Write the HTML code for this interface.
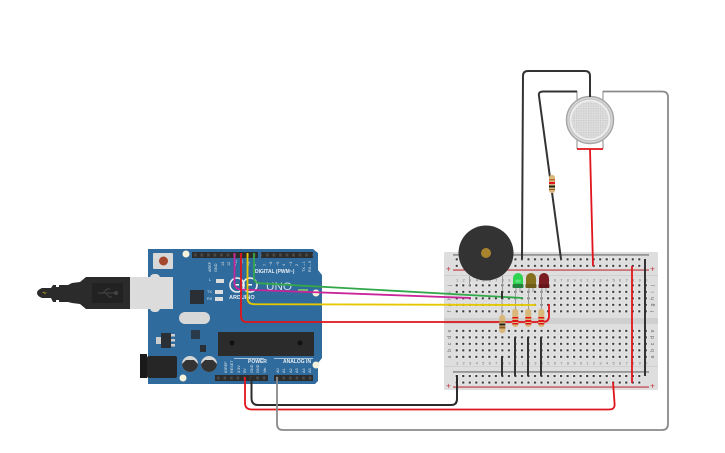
<!DOCTYPE html>
<html><head><meta charset="utf-8"><style>
html,body{margin:0;padding:0;background:#fff}
svg{display:block}
text{font-family:"Liberation Sans",sans-serif}
</style></head><body>
<svg width="725" height="453" viewBox="0 0 725 453" xmlns="http://www.w3.org/2000/svg">
<defs>
<pattern id="h" x="454.7" y="283.3" width="6.52" height="6.5" patternUnits="userSpaceOnUse"><rect width="4" height="4" rx="1" fill="#ededed"/><rect x="1" y="1" width="2.100" height="2.100" fill="#3a3a3a"/></pattern>
<pattern id="h2" x="454.7" y="374" width="6.52" height="6.5" patternUnits="userSpaceOnUse"><rect width="4" height="4" rx="1" fill="#ededed"/><rect x="1" y="1" width="2.100" height="2.100" fill="#3a3a3a"/></pattern>
<pattern id="dots" width="2.4" height="2.4" patternUnits="userSpaceOnUse"><rect width="2.4" height="2.4" fill="#dedede"/><rect width="1.2" height="1.2" fill="#c6c6c6"/></pattern>
<pattern id="hdr1" x="192" y="252" width="6.55" height="6" patternUnits="userSpaceOnUse"><rect width="6.55" height="6" fill="#2c2c2c"/><rect x="2" y="1.500" width="2.600" height="3" fill="#4a4a4a"/></pattern>
<pattern id="hdr2" x="215" y="375" width="6.55" height="6" patternUnits="userSpaceOnUse"><rect width="6.55" height="6" fill="#2c2c2c"/><rect x="2" y="1.500" width="2.600" height="3" fill="#4a4a4a"/></pattern>
</defs>

<!-- Breadboard -->
<rect x="444" y="252" width="214" height="138" rx="1.5" fill="#dedede"/>
<rect x="444" y="275" width="214" height="1" fill="#d0d0d0"/>
<rect x="444" y="366" width="214" height="1" fill="#d0d0d0"/>
<rect x="444" y="318" width="214" height="6" fill="#cfcfcf"/>
<rect x="453" y="254" width="196" height="1.800" fill="#959595"/>
<rect x="453" y="269.500" width="196" height="1.100" fill="#bf3038"/>
<rect x="453" y="371" width="196" height="1.800" fill="#959595"/>
<rect x="453" y="386.500" width="196" height="1.100" fill="#bf3038"/>
<g fill="url(#h)">
<rect x="454.7" y="257.3" width="189" height="4"/>
<rect x="454.7" y="263.8" width="189" height="4"/>
<rect x="454.7" y="283.3" width="195.6" height="4"/>
<rect x="454.7" y="289.8" width="195.6" height="4"/>
<rect x="454.7" y="296.3" width="195.6" height="4"/>
<rect x="454.7" y="302.8" width="195.6" height="4"/>
<rect x="454.7" y="309.3" width="195.6" height="4"/>
<rect x="454.7" y="328.8" width="195.6" height="4"/>
<rect x="454.7" y="335.3" width="195.6" height="4"/>
<rect x="454.7" y="341.8" width="195.6" height="4"/>
<rect x="454.7" y="348.3" width="195.6" height="4"/>
<rect x="454.7" y="354.8" width="195.6" height="4"/>
</g>
<g fill="url(#h2)">
<rect x="454.7" y="374" width="189" height="4"/>
<rect x="454.7" y="380.5" width="189" height="4"/>
</g>
<g font-size="8" fill="#c0303a" text-anchor="middle">
<text x="448.500" y="271.500">+</text><text x="652.500" y="271.500">+</text>
<text x="448.500" y="388.500">+</text><text x="652.500" y="388.500">+</text>
</g>
<g font-size="4" fill="#777">
<text x="456 462.500 469 475.600 482.100 488.600 495.100 501.600 508.200 514.700 521.200 527.700 534.200 540.800 547.300 553.800 560.300 566.800 573.400 579.900 586.400 592.900 599.400 606 612.500 619 625.500 632 638.600 645.100" y="281.500">123456789012345678901234567890</text>
<text x="456 462.500 469 475.600 482.100 488.600 495.100 501.600 508.200 514.700 521.200 527.700 534.200 540.800 547.300 553.800 560.300 566.800 573.400 579.900 586.400 592.900 599.400 606 612.500 619 625.500 632 638.600 645.100" y="364.500">123456789012345678901234567890</text>
</g>
<g font-size="5" fill="#666" text-anchor="middle">
<text transform="translate(451,285.500) rotate(-90)">j</text><text transform="translate(451,292) rotate(-90)">i</text><text transform="translate(451,298.500) rotate(-90)">h</text><text transform="translate(451,305) rotate(-90)">g</text><text transform="translate(451,311.500) rotate(-90)">f</text>
<text transform="translate(451,331) rotate(-90)">e</text><text transform="translate(451,337.500) rotate(-90)">d</text><text transform="translate(451,344) rotate(-90)">c</text><text transform="translate(451,350.500) rotate(-90)">b</text><text transform="translate(451,357) rotate(-90)">a</text>
<text transform="translate(654,285.500) rotate(-90)">j</text><text transform="translate(654,292) rotate(-90)">i</text><text transform="translate(654,298.500) rotate(-90)">h</text><text transform="translate(654,305) rotate(-90)">g</text><text transform="translate(654,311.500) rotate(-90)">f</text>
<text transform="translate(654,331) rotate(-90)">e</text><text transform="translate(654,337.500) rotate(-90)">d</text><text transform="translate(654,344) rotate(-90)">c</text><text transform="translate(654,350.500) rotate(-90)">b</text><text transform="translate(654,357) rotate(-90)">a</text>
</g>

<!-- Arduino board -->
<path d="M148 249 H313 L318 253 V270 L322 275 V358 L318 363 V381 L315 384 H148 Z" fill="#2f6b9c"/>
<rect x="192" y="252" width="66" height="6" fill="url(#hdr1)"/>
<rect x="261" y="252" width="52" height="6" fill="url(#hdr1)"/>
<rect x="215" y="375" width="53" height="6" fill="url(#hdr2)"/>
<rect x="274" y="375" width="39" height="6" fill="url(#hdr2)"/>
<circle cx="186" cy="254" r="3.500" fill="#f6f3dc"/>
<circle cx="316" cy="293" r="3.500" fill="#f6f3dc"/>
<circle cx="316" cy="365" r="3.500" fill="#f6f3dc"/>
<circle cx="183" cy="378" r="3.500" fill="#f6f3dc"/>
<rect x="153" y="253" width="20" height="16" rx="1" fill="#d8d8d8"/>
<circle cx="163.500" cy="261" r="4.500" fill="#a4472c"/>
<rect x="190" y="290" width="14" height="14" fill="#2a2f36"/>
<rect x="179" y="312" width="31" height="12" rx="6" fill="#d8d8d8"/>
<rect x="191" y="330" width="9" height="9" fill="#2a3a48"/>
<rect x="161" y="333" width="10" height="15" fill="#2a2f36"/>
<rect x="156" y="337" width="5" height="7" fill="#ccc"/>
<rect x="171" y="334" width="4" height="2.500" fill="#ccc"/><rect x="171" y="339" width="4" height="2.500" fill="#ccc"/><rect x="171" y="344" width="4" height="2.500" fill="#ccc"/>
<rect x="200" y="345" width="6" height="7" fill="#2a2f36"/>
<rect x="218" y="332" width="96" height="24" fill="#2b2b2b"/>
<circle cx="232" cy="343" r="2.500" fill="#111"/><circle cx="300" cy="343" r="2.500" fill="#111"/>
<rect x="140" y="354" width="7" height="24" fill="#1a1a1a"/><rect x="147" y="356" width="30" height="22" rx="2" fill="#262626"/>
<circle cx="190" cy="364" r="8" fill="#d6d6d6"/><path d="M182 364 A8 8 0 0 0 198 364 L194 360 H186 Z" fill="#333"/>
<circle cx="209" cy="364" r="8" fill="#d6d6d6"/><path d="M201 364 A8 8 0 0 0 217 364 L213 360 H205 Z" fill="#333"/>
<rect x="216" y="279" width="8" height="4" fill="#ddd"/>
<rect x="215" y="290" width="8" height="4" fill="#ddd"/>
<rect x="215" y="297" width="8" height="4" fill="#ddd"/>
<rect x="298" y="289" width="10" height="2" fill="#6fbf73"/>
<g fill="none" stroke="#f0f0f0" stroke-width="1.600">
<circle cx="237" cy="285" r="7"/><circle cx="250" cy="285" r="7"/>
</g>
<rect x="235" y="284" width="4" height="1.500" fill="#fff"/><rect x="248" y="284" width="4" height="1.500" fill="#fff"/>
<g fill="#e6edf3" font-weight="bold">
<text x="229" y="299" font-size="5.500">ARDUINO</text>
<text x="255" y="273" font-size="5">DIGITAL (PWM~)</text>
<text x="248" y="363" font-size="5">POWER</text>
<text x="283" y="363" font-size="5">ANALOG IN</text>
</g>
<text x="266" y="290" font-size="11" fill="#d4e0ea" textLength="26" lengthAdjust="spacingAndGlyphs">UNO</text>
<g fill="#dfe8ef"><rect x="234" y="358" width="30" height=".7"/><rect x="274" y="358" width="39" height=".7"/></g>
<g font-size="3.800" fill="#dfe8ef">
<text transform="translate(211,272) rotate(-90)">AREF</text><text transform="translate(217,272) rotate(-90)">GND</text>
<text transform="translate(224,266) rotate(-90)">13</text><text transform="translate(230,266) rotate(-90)">12</text>
<text transform="translate(237,266) rotate(-90)">~11</text><text transform="translate(243,266) rotate(-90)">~10</text>
<text transform="translate(250,266) rotate(-90)">~9</text><text transform="translate(256,266) rotate(-90)">8</text>
<text transform="translate(266,266) rotate(-90)">7</text><text transform="translate(272,266) rotate(-90)">~6</text>
<text transform="translate(279,266) rotate(-90)">~5</text><text transform="translate(285,266) rotate(-90)">4</text>
<text transform="translate(292,266) rotate(-90)">~3</text><text transform="translate(298,266) rotate(-90)">2</text>
<text transform="translate(305,272) rotate(-90)">TX→1</text><text transform="translate(311,272) rotate(-90)">RX←0</text>
<text transform="translate(227,373) rotate(-90)">IOREF</text><text transform="translate(233,373) rotate(-90)">RESET</text>
<text transform="translate(240,373) rotate(-90)">3.3V</text><text transform="translate(246,373) rotate(-90)">5V</text>
<text transform="translate(253,373) rotate(-90)">GND</text><text transform="translate(259,373) rotate(-90)">GND</text>
<text transform="translate(266,373) rotate(-90)">Vin</text>
<text transform="translate(279,373) rotate(-90)">A0</text><text transform="translate(285,373) rotate(-90)">A1</text>
<text transform="translate(292,373) rotate(-90)">A2</text><text transform="translate(298,373) rotate(-90)">A3</text>
<text transform="translate(305,373) rotate(-90)">A4</text><text transform="translate(311,373) rotate(-90)">A5</text>
<text x="209" y="281">L</text><text x="207" y="293">TX</text><text x="207" y="300">RX</text>
</g>

<!-- USB -->
<rect x="150" y="274" width="10" height="38" rx="4" fill="#dcdcdc"/>
<rect x="130" y="277" width="43" height="32" fill="#dcdcdc"/>
<path d="M42 288 H51 L53 285 H56 V287 H59 V285 H68 L72 283 L80 282 L86 277 H130 V309 H86 L80 304 L72 303 L68 302 H59 V300 H56 V302 H53 L51 298 H42 Q37 296 37 293 Q37 290 42 288 Z" fill="#2b2b2b"/>
<rect x="92" y="283" width="31" height="20" fill="#222"/>
<path d="M98 293 H117" stroke="#444" stroke-width="1"/><circle cx="116" cy="293" r="2" fill="#444"/>
<path d="M103 293 L107 289 H110 M106 293 L109 297 H112" fill="none" stroke="#444" stroke-width="1"/>
<path d="M42 293 L45 291.500 L44 293 L47 292.500 L44 294.500 L45 293 Z" fill="#e2c11a"/>

<!-- Leads -->
<g stroke="#9a9a9a" stroke-width="1" fill="none">
<path d="M469.500 276V286M502.500 276V291"/>
<path d="M515.500 290V309M528.500 290V309M541.500 290V309M502 298V316"/>
<path d="M516 286V292M520 286V292M529 286V292M533 286V292M542 286V292M546 286V292"/>
</g>

<!-- Buzzer -->
<circle cx="486" cy="253" r="27.500" fill="#333"/>
<circle cx="486" cy="253" r="5" fill="#a8842e"/>

<!-- LEDs -->
<path d="M513 287 V278 A5 5 0 0 1 523 278 V287 Z" fill="#2fd352"/><rect x="512.500" y="284" width="11" height="4" rx="1" fill="#24823d"/><ellipse cx="518" cy="281" rx="3" ry="1.500" fill="#7bec8f" opacity=".6"/>
<path d="M526 287 V278 A5 5 0 0 1 536 278 V287 Z" fill="#85701e"/><rect x="525.500" y="284" width="11" height="4" rx="1" fill="#6e5c18"/>
<path d="M539 287 V278 A5 5 0 0 1 549 278 V287 Z" fill="#7b1c22"/><rect x="538.500" y="284" width="11" height="4" rx="1" fill="#66161b"/>

<!-- Sensor -->
<g stroke="#8a8a8a" stroke-width="1" fill="none"><path d="M577 91V100M603 91V100M590 90V100M577 140V149M603 140V149"/></g>
<circle cx="590" cy="120" r="23.500" fill="#d9d9d9" stroke="#a6a6a6" stroke-width="1.500"/>
<circle cx="590" cy="120" r="21" fill="#ededed" stroke="#bdbdbd" stroke-width="1"/>
<circle cx="590" cy="120" r="18.500" fill="url(#dots)"/>

<!-- Wires -->
<g fill="none" stroke-linejoin="round" stroke-linecap="butt">
<path d="M254 253V278Q254 283 260 283.300L523 298" stroke="#32a84a" stroke-width="1.800"/>
<path d="M234.500 253V283Q234.500 289 241 289.500L471 298" stroke="#c9259b" stroke-width="1.800"/>
<path d="M247.500 253V298Q247.500 304 254 304.200L536 305" stroke="#e6c800" stroke-width="1.800"/>
<path d="M241 253V316Q241 322 247 322H543Q549 322 549 316V304" stroke="#e0141c" stroke-width="1.800"/>
<path d="M245 377V403Q245 409.500 252 409.500H609Q615 409.500 614.600 404L613 382" stroke="#e0141c" stroke-width="1.800"/>
<path d="M251.500 377V398Q251.500 405 258 405H451Q457 405 457 399V375" stroke="#2b2b2b" stroke-width="2"/>
<path d="M277 377V424Q277 430 283 430H662Q668 430 668 424V97Q668 91.500 662 91.500H603" stroke="#8a8a8a" stroke-width="1.800"/>
<path d="M590 97V76Q590 71 585 71H528Q523 71 523 76L522 259" stroke="#333" stroke-width="2"/>
<path d="M577 91.500H543Q538 91.500 539 96L561 259" stroke="#333" stroke-width="2"/>
<path d="M577 149H603" stroke="#e0141c" stroke-width="1.800"/>
<path d="M590 149L593 266" stroke="#e0141c" stroke-width="1.800"/>
<path d="M632 266V383" stroke="#e0141c" stroke-width="1.800"/>
<path d="M645 259V376" stroke="#333" stroke-width="2"/>
<path d="M502 291V299M502 356V376M515 337V376M528 337V376M541 337V376" stroke="#333" stroke-width="2"/>
</g>

<!-- Resistors -->
<g>
<g transform="translate(552,175)">
<rect x="-3" y="0" width="6" height="18" rx="2.500" fill="#d9b77a"/>
<rect x="-3" y="4" width="6" height="1.500" fill="#b5732e"/>
<rect x="-3" y="7" width="6" height="2" fill="#e0141c"/>
<rect x="-3" y="10.500" width="6" height="2" fill="#222"/>
<rect x="-3" y="14" width="6" height="1" fill="#8a5a20"/>
</g>
<g transform="translate(502.300,315)">
<rect x="-3" y="0" width="6" height="18" rx="2.500" fill="#d9b77a"/>
<rect x="-3" y="6" width="6" height="1.500" fill="#b5732e"/>
<rect x="-3" y="8.500" width="6" height="2" fill="#222"/>
<rect x="-3" y="11.500" width="6" height="2" fill="#8a5a20"/>
</g>
<g transform="translate(515.300,309)">
<rect x="-3" y="0" width="6" height="18" rx="2.500" fill="#d9b77a"/>
<rect x="-3" y="8" width="6" height="1.500" fill="#e0141c"/>
<rect x="-3" y="11" width="6" height="2" fill="#e0141c"/>
<rect x="-3" y="14" width="6" height="1.500" fill="#e0141c"/>
</g>
<g transform="translate(528.300,309)">
<rect x="-3" y="0" width="6" height="18" rx="2.500" fill="#d9b77a"/>
<rect x="-3" y="8" width="6" height="1.500" fill="#e0141c"/>
<rect x="-3" y="11" width="6" height="2" fill="#e0141c"/>
<rect x="-3" y="14" width="6" height="1.500" fill="#e0141c"/>
</g>
<g transform="translate(541.300,309)">
<rect x="-3" y="0" width="6" height="18" rx="2.500" fill="#d9b77a"/>
<rect x="-3" y="8" width="6" height="1.500" fill="#e0141c"/>
<rect x="-3" y="11" width="6" height="2" fill="#e0141c"/>
<rect x="-3" y="14" width="6" height="1.500" fill="#e0141c"/>
</g>
</g>
</svg>
</body></html>
